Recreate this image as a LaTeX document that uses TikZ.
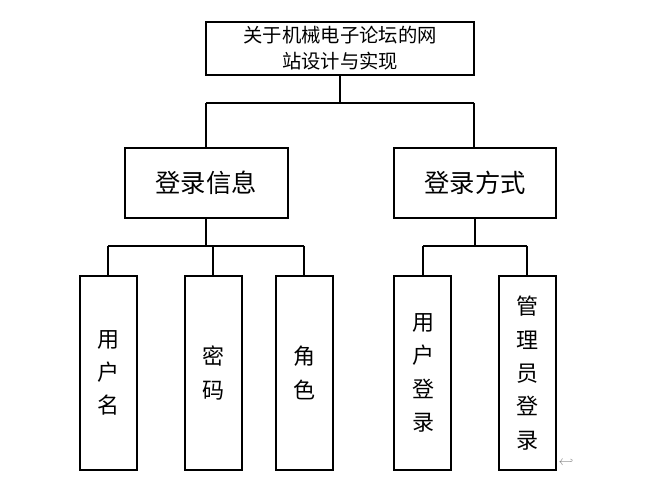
\documentclass[tikz,border=0pt]{standalone}
\usepackage{fontspec}
\newfontfamily\cjk{Noto Sans CJK SC}
\begin{document}
\begin{tikzpicture}[x=0.75pt,y=-0.75pt,
  box/.style={draw,line width=1.2pt,inner sep=0pt},
  ln/.style={line width=1.2pt},
  t/.style={font=\cjk\fontsize{14.5}{19}\selectfont,align=center},
  m/.style={font=\cjk\fontsize{19}{22}\selectfont},
  l/.style={font=\cjk\fontsize{16.5}{25}\selectfont,align=center}]
\useasboundingbox (0,0) rectangle (665,491);
\draw[box] (206,22) rectangle (474,75);
\node[t] (root) at (340,48) {关于机械电子论坛的网\\站设计与实现};
\draw[box] (125,148) rectangle (288,218);
\node[m] (a) at (206,183) {登录信息};
\draw[box] (394,148) rectangle (556,218);
\node[m] (b) at (475,183) {登录方式};
\foreach \n/\x/\y/\txt in {a1/80/108/用\\户\\名, a2/185/213/密\\码, a3/276/304/角\\色, b1/394/423/用\\户\\登\\录, b2/499/527/管\\理\\员\\登\\录}{
  \draw[box] (\x,276) rectangle (\x+57,470);
  \node[l] (\n) at (\y,373) {\txt};
}
\coordinate (r0) at (340,75);
\draw[ln] (r0) -- (340,103) (206,103) -- (474,103) (206,103) -- (206,148) (474,103) -- (474,148);
\draw[ln] (206,218) -- (206,246) (108,246) -- (304,246);
\foreach \x in {108,213,304} \draw[ln] (\x,246) -- (\x,276);
\draw[ln] (475,218) -- (475,246) (423,246) -- (527,246);
\foreach \x in {423,527} \draw[ln] (\x,246) -- (\x,276);
\node[text=gray,font=\fontsize{10}{10}\selectfont] (ret) at (566,462) {$\hookleftarrow$};
\end{tikzpicture}
\end{document}
